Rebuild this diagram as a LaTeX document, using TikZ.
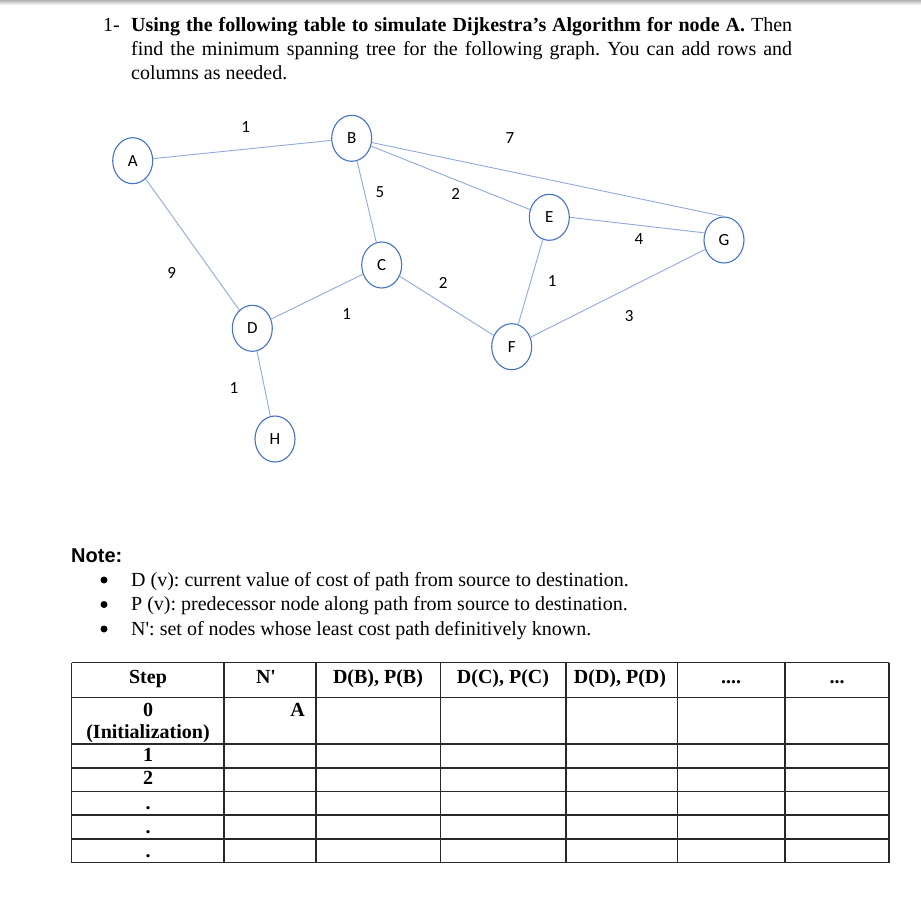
\documentclass[tikz,border=0pt]{standalone}
\usepackage{fontspec}
\setmainfont{Liberation Serif}[Ligatures=TeXOff]
\newfontfamily\arialf{Liberation Sans}
\newfontfamily\calf{Carlito}
\usetikzlibrary{shapes.geometric}
\definecolor{edgeblue}{RGB}{143,170,220}
\definecolor{nodeblue}{RGB}{68,114,196}
\definecolor{gridc}{RGB}{40,40,40}
\frenchspacing
\begin{document}
\begin{tikzpicture}[x=1pt,y=-1pt,
 vert/.style={ellipse, draw=nodeblue, line width=1.1pt, fill=white, minimum width=40pt, minimum height=46pt, inner sep=0pt, font=\calf\fontsize{17}{20}\selectfont},
 edge/.style={draw=edgeblue, line width=0.9pt},
 wlab/.style={font=\calf\fontsize{17}{20}\selectfont, inner sep=0pt},
 body/.style={font=\fontsize{20}{24}\selectfont\frenchspacing, inner sep=0pt},
 hdr/.style={font=\bfseries\fontsize{20}{24}\selectfont, inner sep=0pt, anchor=base},
 bul/.style={circle, fill=black, inner sep=0pt, minimum size=7pt},
 gridl/.style={draw=gridc, line width=1.3pt}]
\useasboundingbox[fill=white] (0,0) rectangle (921,913);
\shade[top color=gray!60, bottom color=white] (0,0) rectangle (921,5);

% title
\node[body, anchor=base west] (num) at (103,31) {1-};
\node[body, anchor=base west, text width=661pt, align=justify] (title) at (131,31) {\textbf{Using the following table to simulate Dijkestra’s Algorithm for node A.} Then\linebreak find the minimum spanning tree for the following graph. You can add rows and\linebreak columns as needed.};

% graph
\node[vert] (A) at (132.7,160.7) {A};
\node[vert] (B) at (351.7,138.3) {B};
\node[vert] (C) at (381.7,265) {C};
\node[vert] (D) at (252.3,328.3) {D};
\node[vert] (E) at (549.3,217.3) {E};
\node[vert] (G) at (724,240) {G};
\node[vert] (F) at (511.7,346.7) {F};
\node[vert] (H) at (275,439) {H};

\draw[edge] (A) -- (B);
\draw[edge] (A) -- (D);
\draw[edge] (B) -- (C);
\draw[edge] (B) -- (E);
\draw[edge] (B) -- (G.north);
\draw[edge] (C) -- (D);
\draw[edge] (C) -- (F);
\draw[edge] (E) -- (F);
\draw[edge] (E.east) -- (G.160);
\draw[edge] (F) -- (G);
\draw[edge] (D) -- (H);

\node[wlab] (lab) at (245.7,127.3) {1};
\node[wlab] (lad) at (171.7,272.7) {9};
\node[wlab] (lbc) at (380,191.7) {5};
\node[wlab] (lcd) at (346.7,314.3) {1};
\node[wlab] (lbg) at (510,138.3) {7};
\node[wlab] (lbe) at (455.7,194.3) {2};
\node[wlab] (leg) at (639,239.3) {4};
\node[wlab] (lcf) at (443.3,282.7) {2};
\node[wlab] (lef) at (552.3,280.7) {1};
\node[wlab] (lfg) at (629.3,315.7) {3};
\node[wlab] (ldh) at (234,387.7) {1};

% note
\node[font=\arialf\bfseries\fontsize{20}{24}\selectfont, inner sep=0pt, anchor=base west] (note) at (71,562) {Note:};
\node[bul] (b1) at (104,580) {};
\node[bul] (b2) at (104,604.5) {};
\node[bul] (b3) at (104,629) {};
\node[body, anchor=base west] (n1) at (131,586) {D (v): current value of cost of path from source to destination.};
\node[body, anchor=base west] (n2) at (131,610) {P (v): predecessor node along path from source to destination.};
\node[body, anchor=base west] (n3) at (131,635) {N': set of nodes whose least cost path definitively known.};

% table
\foreach \yy in {662.5,697.5,744,768,791.5,815,839,862.5}
  \draw[gridl] (71.5,\yy) -- (889,\yy);
\foreach \xx in {71.5,224,316,440.5,566,677.5,785,889}
  \draw[gridl] (\xx,662.5) -- (\xx,862.5);

\node[hdr] (h1) at (148,683) {Step};
\node[hdr] (h2) at (266,683) {N'};
\node[hdr] (h3) at (378,683) {D(B), P(B)};
\node[hdr] (h4) at (503,683) {D(C), P(C)};
\node[hdr] (h5) at (620,683) {D(D), P(D)};
\node[hdr] (h6) at (731,683) {....};
\node[hdr] (h7) at (837,683) {...};

\node[hdr] (s0) at (148,716) {0};
\node[hdr] (s0b) at (148,738) {(Initialization)};
\node[hdr, anchor=base east] (nA) at (305,716) {A};
\node[hdr] (s1) at (148,761) {1};
\node[hdr] (s2) at (148,784) {2};
\node[hdr] (s3) at (148,809) {.};
\node[hdr] (s4) at (148,833) {.};
\node[hdr] (s5) at (148,857) {.};
\end{tikzpicture}
\end{document}
